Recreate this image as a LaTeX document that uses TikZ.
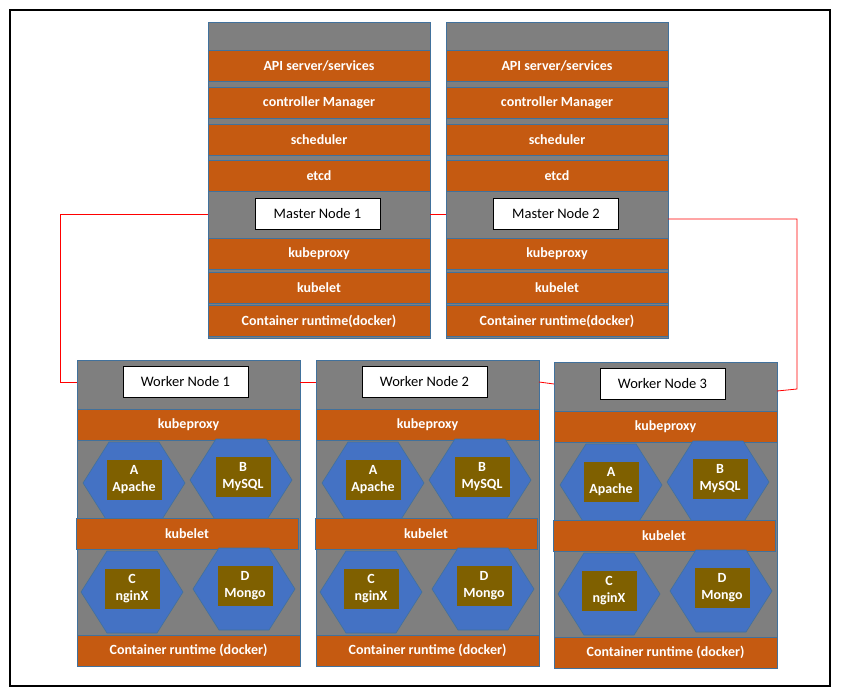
\documentclass[tikz,border=0pt]{standalone}
\usepackage{fontspec}
\setmainfont{Carlito}
\usetikzlibrary{positioning}
\definecolor{korange}{HTML}{C55A11}
\definecolor{kgrey}{HTML}{7F7F7F}
\definecolor{kblue}{HTML}{4472C4}
\definecolor{kbrown}{HTML}{7F6000}
\definecolor{kedge}{HTML}{41719C}
\tikzset{
  panel/.style={draw=kedge, fill=kgrey, line width=.8pt},
  bar/.style={draw=kedge, fill=korange, text=white, font=\fontsize{14}{16}\selectfont\bfseries,
    minimum height=31pt, inner sep=0pt, line width=.6pt},
  tag/.style={draw=black, fill=white, minimum width=125pt, minimum height=31pt,
    font=\fontsize{14.5}{16}\selectfont, inner sep=0pt, line width=.8pt},
  pod/.style={draw=kedge, fill=kblue, line width=.6pt},
  app/.style={fill=kbrown, text=white, font=\fontsize{14}{17}\selectfont\bfseries, align=center,
    minimum width=55pt, minimum height=40pt, inner sep=0pt},
  link/.style={red, line width=.8pt}
}
\newcommand{\hexpod}[2]{%
  \fill[pod] (#1-51,#2) -- (#1-25,#2-41) -- (#1+25,#2-41) -- (#1+51,#2)
    -- (#1+25,#2+41) -- (#1-25,#2+41) -- cycle;}
\begin{document}
\begin{tikzpicture}[x=1pt,y=-1pt]
    %frame
    \useasboundingbox (0,0) rectangle (842,695);
    \draw[line width=1.5pt] (10,10) rectangle (830,686);
    %masters
    \foreach \i/\dx in {1/0,2/238}{
      \begin{scope}[xshift=\dx pt]
        \draw[panel] (208,22) rectangle (430,338);
        \node[bar, minimum width=222pt] (api\i) at (319,65.5) {API server/services};
        \node[bar, minimum width=222pt] (cm\i) at (319,102.5) {controller Manager};
        \node[bar, minimum width=222pt] (sch\i) at (319,139.5) {scheduler};
        \node[bar, minimum width=222pt] (etcd\i) at (319,175.5) {etcd};
        \node[bar, minimum width=222pt] (mkp\i) at (319,253.5) {kubeproxy};
        \node[bar, minimum width=222pt] (mkl\i) at (319,287.5) {kubelet};
        \node[bar, minimum width=222pt] (mcr\i) at (319,321) {Container runtime(docker)};
        \coordinate (ml\i) at (208,214);
        \coordinate (mr\i) at (430,214);
      \end{scope}}
    \node[tag] (m1) at (317.5,213.5) {Master Node 1};
    \node[tag] (m2) at (556,213.5) {Master Node 2};
    %workers
    \foreach \i/\dx/\dy in {1/0/0,2/239/0,3/477/2}{
      \begin{scope}[xshift=\dx pt, yshift=-\dy pt]
        \draw[panel] (77,360) rectangle (300,666);
        \node[tag] (w\i) at (185.5,381.5) {Worker Node \i};
        \node[bar, minimum width=223pt] (wkp\i) at (188.5,425) {kubeproxy};
        \hexpod{134}{483}
        \hexpod{241}{480}
        \node[bar, minimum width=222pt] (wkl\i) at (187,534) {kubelet};
        \hexpod{132}{592}
        \hexpod{244}{589}
        \node[app] (a\i) at (134,480) {A\\Apache};
        \node[app] (b\i) at (243,477) {B\\MySQL};
        \node[app] (c\i) at (132,589) {C\\nginX};
        \node[app] (d\i) at (245,586) {D\\Mongo};
        \node[bar, minimum width=223pt] (wcr\i) at (188.5,650.5) {Container runtime (docker)};
        \coordinate (wl\i) at (77,382);
        \coordinate (wr\i) at (300,382);
      \end{scope}}
    %links
    \draw[link] (ml1) -| (60,382) -- (wl1);
    \draw[link] (mr1) -- (ml2);
    \draw[link] ([yshift=-5pt]mr2) -| (797,389) -- ([yshift=-7pt]wr3);
    \draw[link] (wr1) -- (wl2);
    \draw[link] (wr2) -- (wl3);
\end{tikzpicture}
\end{document}
